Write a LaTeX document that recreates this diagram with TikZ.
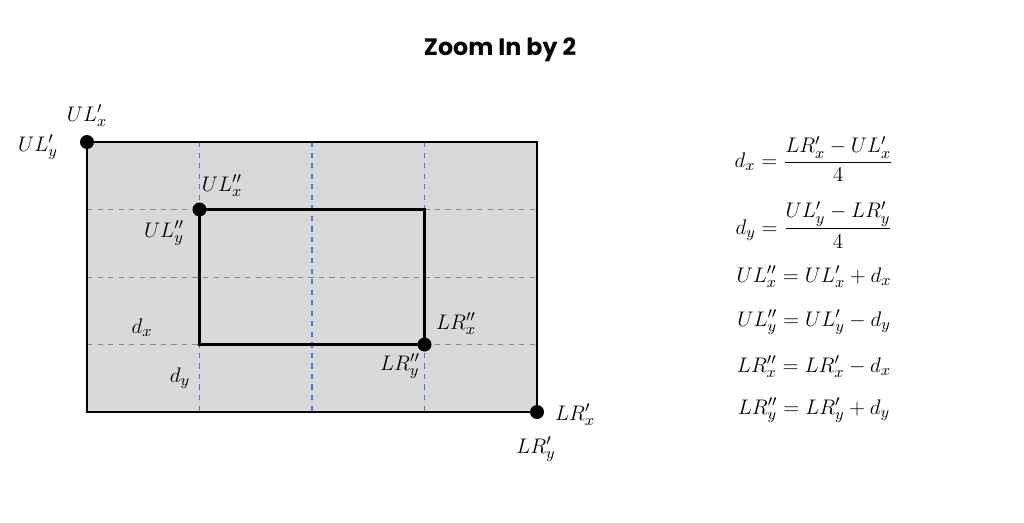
\documentclass[tikz,border=0pt]{standalone}
\usepackage{fontspec}
\newfontfamily\titlefont{Poppins}[UprightFont=* Bold]
\usetikzlibrary{positioning}
\definecolor{boxgray}{RGB}{217,217,217}
\definecolor{gridblue}{RGB}{70,115,225}
\definecolor{gridgray}{RGB}{125,135,165}

\begin{document}
\begin{tikzpicture}[x=0.02cm,y=-0.02cm,
dot/.style = {% corner points
    circle, fill=black, inner sep=0pt, minimum size=0.28cm,
            },
lbl/.style = {% corner labels
    inner sep=0pt, font=\fontsize{13}{15}\selectfont,
            },
eqn/.style = {% equations
    inner sep=0pt, font=\fontsize{13}{15}\selectfont,
            },                        ]

  \useasboundingbox (0,0) rectangle (1024,522);

  \node[font=\titlefont\fontsize{13.5}{16}\selectfont] (title) at (500,50) {Zoom In by 2};

  % outer box and grid
  \coordinate (ULo) at (87,142);
  \coordinate (LRo) at (537,412);
  \fill[boxgray] (ULo) rectangle (LRo);
  \foreach \gy in {209.5,277,344.5}
    \draw[gridgray,dashed,line width=0.5pt] (87,\gy) -- (537,\gy);
  \draw[gridblue,dashed,line width=0.75pt] (312,142) -- (312,412);
  \draw[gridblue,dashed,line width=0.75pt] (199.5,142) -- (199.5,412);
  \draw[gridblue,dashed,line width=0.75pt] (424.5,142) -- (424.5,412);
  \draw[semithick] (ULo) rectangle (LRo);

  % inner box
  \coordinate (ULi) at (199.5,209.5);
  \coordinate (LRi) at (424.5,344.5);
  \draw[line width=1.8pt] (ULi) rectangle (LRi);

  \node[dot] (pULo) at (ULo) {};
  \node[dot] (pULi) at (ULi) {};
  \node[dot] (pLRi) at (LRi) {};
  \node[dot] (pLRo) at (LRo) {};

  % labels
  \node[lbl] (ulox) at (87,116)  {$UL'_x$};
  \node[lbl] (uloy) at (38,147)  {$UL'_y$};
  \node[lbl] (ulix) at (222,186) {$UL''_x$};
  \node[lbl] (uliy) at (164,233) {$UL''_y$};
  \node[lbl] (dx)   at (142,328) {$d_x$};
  \node[lbl] (dy)   at (180,378) {$d_y$};
  \node[lbl] (lrix) at (456,324) {$LR''_x$};
  \node[lbl] (lriy) at (400,366) {$LR''_y$};
  \node[lbl] (lrox) at (575,415) {$LR'_x$};
  \node[lbl] (lroy) at (536,449) {$LR'_y$};

  % equations
  \node[eqn] (eqdx) at (814,159) {$\displaystyle d_x = \frac{LR'_x - UL'_x}{4}$};
  \node[eqn] (eqdy) at (814,225) {$\displaystyle d_y = \frac{UL'_y - LR'_y}{4}$};
  \node[eqn] (equlx) at (814,277) {$UL''_x = UL'_x + d_x$};
  \node[eqn] (equly) at (814,322) {$UL''_y = UL'_y - d_y$};
  \node[eqn] (eqlrx) at (814,367) {$LR''_x = LR'_x - d_x$};
  \node[eqn] (eqlry) at (814,410) {$LR''_y = LR'_y + d_y$};

\end{tikzpicture}
\end{document}
